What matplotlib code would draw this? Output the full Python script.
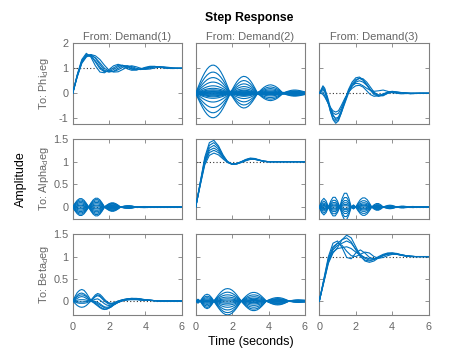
import numpy as np
import matplotlib
matplotlib.use("Agg")
import matplotlib.pyplot as plt

# ---------------- data ----------------
inputs = ["Demand(1)", "Demand(2)", "Demand(3)"]
outputs = ["Phi", "Alpha", "Beta"]
steady = [[1, 0, 0], [0, 1, 0], [0, 0, 1]]

t_coarse = np.linspace(0, 6, 25)   # 0.25 s grid
t_fine = np.linspace(0, 6, 49)     # 0.125 s grid

# Phi <- Demand(1)
phi_d1 = [
    [0, .75, 1.35, 1.6, 1.45, 1.1, .85, .82, .95, 1.1, 1.16, 1.1, .98, .92, .93, .98, 1.04, 1.08, 1.08, 1.05, 1.02, 1.0, .99, 1.0, 1.0],
    [0, .7, 1.25, 1.52, 1.55, 1.4, 1.15, .92, .85, .88, 1.0, 1.1, 1.1, 1.03, .96, .95, .98, 1.03, 1.07, 1.07, 1.04, 1.02, 1.0, 1.0, 1.0],
    [0, .65, 1.2, 1.45, 1.55, 1.5, 1.35, 1.12, .92, .85, .86, .95, 1.05, 1.1, 1.06, 1.0, .96, .97, 1.01, 1.05, 1.06, 1.04, 1.02, 1.0, 1.0],
    [0, .72, 1.3, 1.55, 1.5, 1.25, .98, .86, .9, 1.02, 1.12, 1.12, 1.04, .96, .94, .97, 1.02, 1.06, 1.07, 1.05, 1.02, 1.0, 1.0, 1.0, 1.0],
    [0, .68, 1.22, 1.48, 1.52, 1.42, 1.22, 1.0, .88, .87, .94, 1.04, 1.1, 1.07, 1.0, .96, .97, 1.01, 1.05, 1.06, 1.04, 1.02, 1.0, 1.0, 1.0],
    [0, .7, 1.28, 1.5, 1.48, 1.3, 1.05, .88, .86, .95, 1.07, 1.12, 1.07, .99, .95, .96, 1.0, 1.05, 1.07, 1.06, 1.03, 1.01, 1.0, 1.0, 1.0],
]

# Phi <- Demand(2): base envelope + family gains
phi_d2_base = [0, .205, .40, .58, .735, .86, .946, .992, .997, .958, .88, .763, .614, .44, .245, .04,
               .125, .27, .40, .50, .57, .60, .587, .535, .446, .327, .185, .03,
               .067, .145, .212, .26, .29, .30, .28, .246, .19, .115, .033,
               .03, .06, .085, .105, .115, .115, .105, .09, .07, .05]
phi_d2_gains = [1.13, .85, .63, .45, .3, .2, .14, .1, .07, .04, .015, -.015, -.04, -.07, -.1,
                -.14, -.2, -.35, -.57, -.78, -.98]

# Phi <- Demand(3)
phi_d3_t = [0, .1, .2, .3, .45, .6, .75, .9, 1.05, 1.2, 1.4, 1.6, 1.8, 2.0, 2.2, 2.4, 2.6, 2.8, 3.0, 3.25, 3.5, 3.75, 4.0, 4.5, 5.0, 5.5, 6.0]
phi_d3 = [
    [0, .15, .3, .2, -.2, -.7, -1.05, -1.2, -1.1, -.8, -.3, .15, .45, .62, .65, .55, .35, .12, -.05, -.12, -.05, .05, .08, .02, -.02, 0, 0],
    [0, .1, .2, .1, -.25, -.6, -.9, -1.0, -.95, -.7, -.3, .1, .38, .55, .6, .52, .35, .15, 0, -.1, -.08, .02, .06, .03, -.01, 0, 0],
    [0, .05, .05, -.1, -.35, -.6, -.78, -.85, -.8, -.6, -.25, .05, .3, .45, .5, .45, .32, .15, .02, -.06, -.06, 0, .04, .02, 0, 0, 0],
    [0, .1, .25, .15, -.15, -.55, -.85, -1.05, -1.0, -.75, -.35, .05, .3, .4, .38, .3, .2, .12, .08, .1, .13, .08, .02, -.02, 0, 0, 0],
    [0, 0, -.05, -.15, -.35, -.55, -.7, -.75, -.7, -.5, -.2, .05, .2, .3, .32, .25, .1, -.05, -.12, -.1, -.02, .04, .05, .02, 0, 0, 0],
    [0, .08, .15, .05, -.3, -.7, -1.0, -1.12, -1.05, -.8, -.4, 0, .3, .5, .6, .58, .45, .25, .05, -.1, -.1, 0, .06, .03, 0, 0, 0],
]

# Alpha <- Demand(1)
alpha_d1_base = [0, .434, .782, .975, .975, .782, .434, 0,
                 .456, .82, 1.02, 1.02, .82, .456, 0,
                 .22, .39, .49, .49, .39, .22, 0,
                 .065, .12, .15, .15, .12, .065, .01,
                 .03, .05, .06, .06, .05, .03, .01, 0,
                 0, 0, 0, 0, 0, 0, 0, 0, 0, 0, 0, 0]
alpha_d1_gains = [.19, .16, .13, .1, .07, .04, .02, -.02, -.04, -.07, -.1, -.13, -.16, -.19]

# Alpha <- Demand(2)
alpha_d2 = [
    [0, .55, 1.1, 1.42, 1.47, 1.35, 1.15, 1.0, .95, .96, 1.0, 1.05, 1.08, 1.07, 1.04, 1.01, 1.0, 1.0, 1.0, 1.0, 1.0, 1.0, 1.0, 1.0, 1.0],
    [0, .52, 1.02, 1.3, 1.36, 1.28, 1.12, 1.0, .95, .96, 1.0, 1.04, 1.07, 1.06, 1.03, 1.01, 1.0, 1.0, 1.0, 1.0, 1.0, 1.0, 1.0, 1.0, 1.0],
    [0, .5, .97, 1.2, 1.25, 1.2, 1.09, .99, .95, .96, .99, 1.03, 1.06, 1.05, 1.03, 1.01, 1.0, 1.0, 1.0, 1.0, 1.0, 1.0, 1.0, 1.0, 1.0],
    [0, .48, .93, 1.14, 1.19, 1.15, 1.06, .98, .94, .95, .98, 1.02, 1.05, 1.05, 1.03, 1.01, 1.0, 1.0, 1.0, 1.0, 1.0, 1.0, 1.0, 1.0, 1.0],
    [0, .54, 1.06, 1.36, 1.42, 1.32, 1.13, .99, .94, .95, .99, 1.04, 1.07, 1.06, 1.03, 1.0, 1.0, 1.0, 1.0, 1.0, 1.0, 1.0, 1.0, 1.0, 1.0],
    [0, .5, 1.0, 1.25, 1.3, 1.24, 1.1, 1.0, .95, .95, .99, 1.03, 1.06, 1.06, 1.03, 1.01, 1.0, 1.0, 1.0, 1.0, 1.0, 1.0, 1.0, 1.0, 1.0],
]

# Alpha <- Demand(3)
alpha_d3_base = [0, .42, .6, .42, 0,
                 .41, .67, .67, .41, 0,
                 .59, .95, .95, .59, 0,
                 .15, 0,
                 .28, .51, .63, .63, .51, .28, 0,
                 .15, .24, .24, .15, 0,
                 .06, .11, .13, .11, .06, 0,
                 .04, .06, .06, .04, .02, .03, .04, .03, .02, .02, .03, .02, .01, .02]
alpha_d3_gains = [.32, .22, .15, .1, .06, .03, -.03, -.06, -.1, -.15, -.22, -.29]

# Beta <- Demand(1)
beta_d1_t = [0, .125, .25, .375, .5, .625, .75, .875, 1.0, 1.125, 1.25, 1.375, 1.5, 1.625, 1.75, 1.875, 2.0, 2.125, 2.25, 2.5, 2.75, 3.0, 3.25, 3.5, 3.75, 4.0, 4.5, 5.0, 5.5, 6.0]
beta_d1 = [
    [0, .1, .19, .24, .26, .24, .18, .1, .02, .08, .14, .17, .15, .1, .04, -.01, -.04, -.05, -.04, 0, .03, .05, .06, .06, .05, .03, .01, 0, 0, 0],
    [0, .07, .13, .17, .18, .16, .12, .06, .01, .05, .1, .12, .1, .05, 0, -.04, -.07, -.07, -.05, 0, .03, .05, .06, .05, .04, .03, .01, 0, 0, 0],
    [0, .03, .06, .09, .1, .09, .06, .03, 0, .02, .04, .05, .02, -.02, -.06, -.09, -.1, -.09, -.07, -.02, .02, .04, .05, .05, .04, .02, .01, 0, 0, 0],
    [0, .01, .02, .03, .03, .03, .02, .01, 0, 0, -.01, -.03, -.06, -.1, -.13, -.14, -.13, -.11, -.08, -.03, .01, .03, .04, .04, .03, .02, .01, 0, 0, 0],
    [0, -.02, -.04, -.05, -.05, -.05, -.04, -.02, 0, -.02, -.05, -.09, -.13, -.16, -.18, -.18, -.16, -.13, -.09, -.03, .01, .03, .04, .04, .03, .02, .01, 0, 0, 0],
    [0, -.05, -.1, -.13, -.14, -.13, -.1, -.05, 0, -.03, -.07, -.11, -.15, -.18, -.19, -.18, -.15, -.11, -.07, -.02, .01, .03, .03, .03, .02, .02, .01, 0, 0, 0],
    [0, .05, .1, .13, .14, .13, .1, .05, .01, .06, .11, .14, .12, .07, .02, -.02, -.05, -.06, -.05, -.01, .02, .04, .05, .05, .04, .02, .01, 0, 0, 0],
    [0, -.01, -.02, -.02, -.02, -.02, -.01, 0, 0, -.01, -.03, -.06, -.09, -.12, -.15, -.16, -.15, -.13, -.09, -.03, .01, .03, .04, .04, .03, .02, .01, 0, 0, 0],
]

# Beta <- Demand(2)
beta_d2_base = [0, .15, 0,
                .275, .476, .55, .476, .275, 0,
                .26, .5, .71, .87, .97, 1.0, .97, .87, .71, .5, .26, 0,
                .2, .38, .53, .64, .69, .69, .64, .53, .38, .2, 0,
                .087, .165, .227, .266, .28, .266, .227, .165, .087, 0,
                .04, .07, .09, .1, .09, .08, .07]
beta_d2_gains = [.28, .2, .14, .09, .05, .02, -.02, -.05, -.09, -.14, -.2, -.26, -.31]

# Beta <- Demand(3)
beta_d3 = [
    [0, .5, 1.0, 1.3, 1.35, 1.2, .98, .95, 1.08, 1.15, 1.08, .98, .95, .97, 1.02, 1.06, 1.07, 1.05, 1.03, 1.01, 1.0, 1.0, 1.0, 1.0, 1.0],
    [0, .42, .85, 1.08, 1.2, 1.38, 1.48, 1.42, 1.22, 1.02, .9, .87, .9, .97, 1.03, 1.07, 1.08, 1.07, 1.04, 1.02, 1.01, 1.0, 1.0, 1.0, 1.0],
    [0, .45, .9, 1.15, 1.25, 1.3, 1.35, 1.3, 1.17, 1.05, .96, .92, .93, .98, 1.03, 1.06, 1.07, 1.06, 1.04, 1.02, 1.01, 1.0, 1.0, 1.0, 1.0],
    [0, .44, .88, 1.1, 1.18, 1.2, 1.22, 1.18, 1.1, 1.03, .98, .95, .95, .98, 1.02, 1.05, 1.06, 1.05, 1.04, 1.02, 1.01, 1.0, 1.0, 1.0, 1.0],
    [0, .46, .92, 1.18, 1.3, 1.38, 1.42, 1.33, 1.15, 1.0, .92, .9, .94, 1.0, 1.05, 1.08, 1.08, 1.06, 1.03, 1.01, 1.0, 1.0, 1.0, 1.0, 1.0],
    [0, .48, .96, 1.22, 1.3, 1.25, 1.12, 1.02, 1.0, 1.05, 1.1, 1.08, 1.0, .96, .98, 1.02, 1.05, 1.05, 1.03, 1.01, 1.0, 1.0, 1.0, 1.0, 1.0],
]

xticks = [0, 2, 4, 6]
row_ylims = [(-1.24, 2.0), (-0.27, 1.5), (-0.32, 1.5)]
row_yticks = [[-1, 0, 1, 2], [0, 0.5, 1, 1.5], [0, 0.5, 1, 1.5]]
row_yticklabels = [["-1", "0", "1", "2"], ["0", "0.5", "1", "1.5"], ["0", "0.5", "1", "1.5"]]

# ---------------- drawing ----------------
plt.rcParams["font.family"] = ["Liberation Sans", "DejaVu Sans"]
plt.rcParams["mathtext.default"] = "regular"

W, H = 474, 355
fig = plt.figure(figsize=(W / 100, H / 100), dpi=100)
fig.patch.set_facecolor("white")

col_px = [(72.7, 181.7), (195.7, 305.0), (319.3, 428.7)]
row_px = [(43.3, 124.3), (139.0, 219.3), (234.3, 315.3)]

BLUE = "#0072BD"
GRAY = "#808080"
TXT = "#666666"
LW = 0.8

def family(ax, t, curves):
    for c in curves:
        ax.plot(t, c, color=BLUE, lw=LW, zorder=3)

def scaled(ax, t, base, gains):
    b = np.asarray(base)
    for g in gains:
        ax.plot(t, g * b, color=BLUE, lw=LW, zorder=3)

axes = [[None] * 3 for _ in range(3)]
for r in range(3):
    for c in range(3):
        x0, x1 = col_px[c]
        y0, y1 = row_px[r]
        ax = fig.add_axes([x0 / W, 1 - y1 / H, (x1 - x0) / W, (y1 - y0) / H])
        axes[r][c] = ax
        ax.set_xlim(0, 6)
        ax.set_ylim(*row_ylims[r])
        ax.set_xticks(xticks)
        ax.set_yticks(row_yticks[r])
        ax.plot([0, 6], [steady[r][c]] * 2, color="#333333", lw=0.8, ls=(0, (1, 2)), zorder=2)
        for s in ax.spines.values():
            s.set_color(GRAY)
            s.set_linewidth(0.8)
        ax.tick_params(direction="in", length=3, width=0.6, color=GRAY, labelcolor=TXT,
                       labelsize=7.8, top=True, right=True)
        ax.tick_params(axis="x", pad=5)
        ax.tick_params(axis="y", pad=3)
        if r == 2:
            ax.set_xticklabels([str(v) for v in xticks])
        else:
            ax.set_xticklabels([])
        if c == 0:
            ax.set_yticklabels(row_yticklabels[r])
        else:
            ax.set_yticklabels([])

family(axes[0][0], t_coarse, phi_d1)
scaled(axes[0][1], t_fine, phi_d2_base, phi_d2_gains)
family(axes[0][2], phi_d3_t, phi_d3)
scaled(axes[1][0], t_fine, alpha_d1_base, alpha_d1_gains)
family(axes[1][1], t_coarse, alpha_d2)
scaled(axes[1][2], t_fine, alpha_d3_base, alpha_d3_gains)
family(axes[2][0], beta_d1_t, beta_d1)
scaled(axes[2][1], t_fine, beta_d2_base, beta_d2_gains)
family(axes[2][2], t_coarse, beta_d3)

# texts
fig.text(249 / W, 1 - 17.5 / H, "Step Response", ha="center", va="center",
         fontsize=8.8, fontweight="bold", color="black")
for c in range(3):
    xc = (col_px[c][0] + col_px[c][1]) / 2
    fig.text(xc / W, 1 - 36.5 / H, "From: " + inputs[c], ha="center", va="center",
             fontsize=8, color=TXT)
for r in range(3):
    yc = (row_px[r][0] + row_px[r][1]) / 2
    fig.text(44 / W, 1 - yc / H, "To: " + outputs[r] + "$_d$eg", ha="center", va="center",
             rotation=90, fontsize=7.8, color=TXT)
fig.text(21 / W, 1 - 179 / H, "Amplitude", ha="center", va="center", rotation=90,
         fontsize=9, color="black")
fig.text(250.5 / W, 1 - 342 / H, "Time (seconds)", ha="center", va="center",
         fontsize=9, color="black")

fig.savefig("out.png", dpi=100, facecolor="white")
